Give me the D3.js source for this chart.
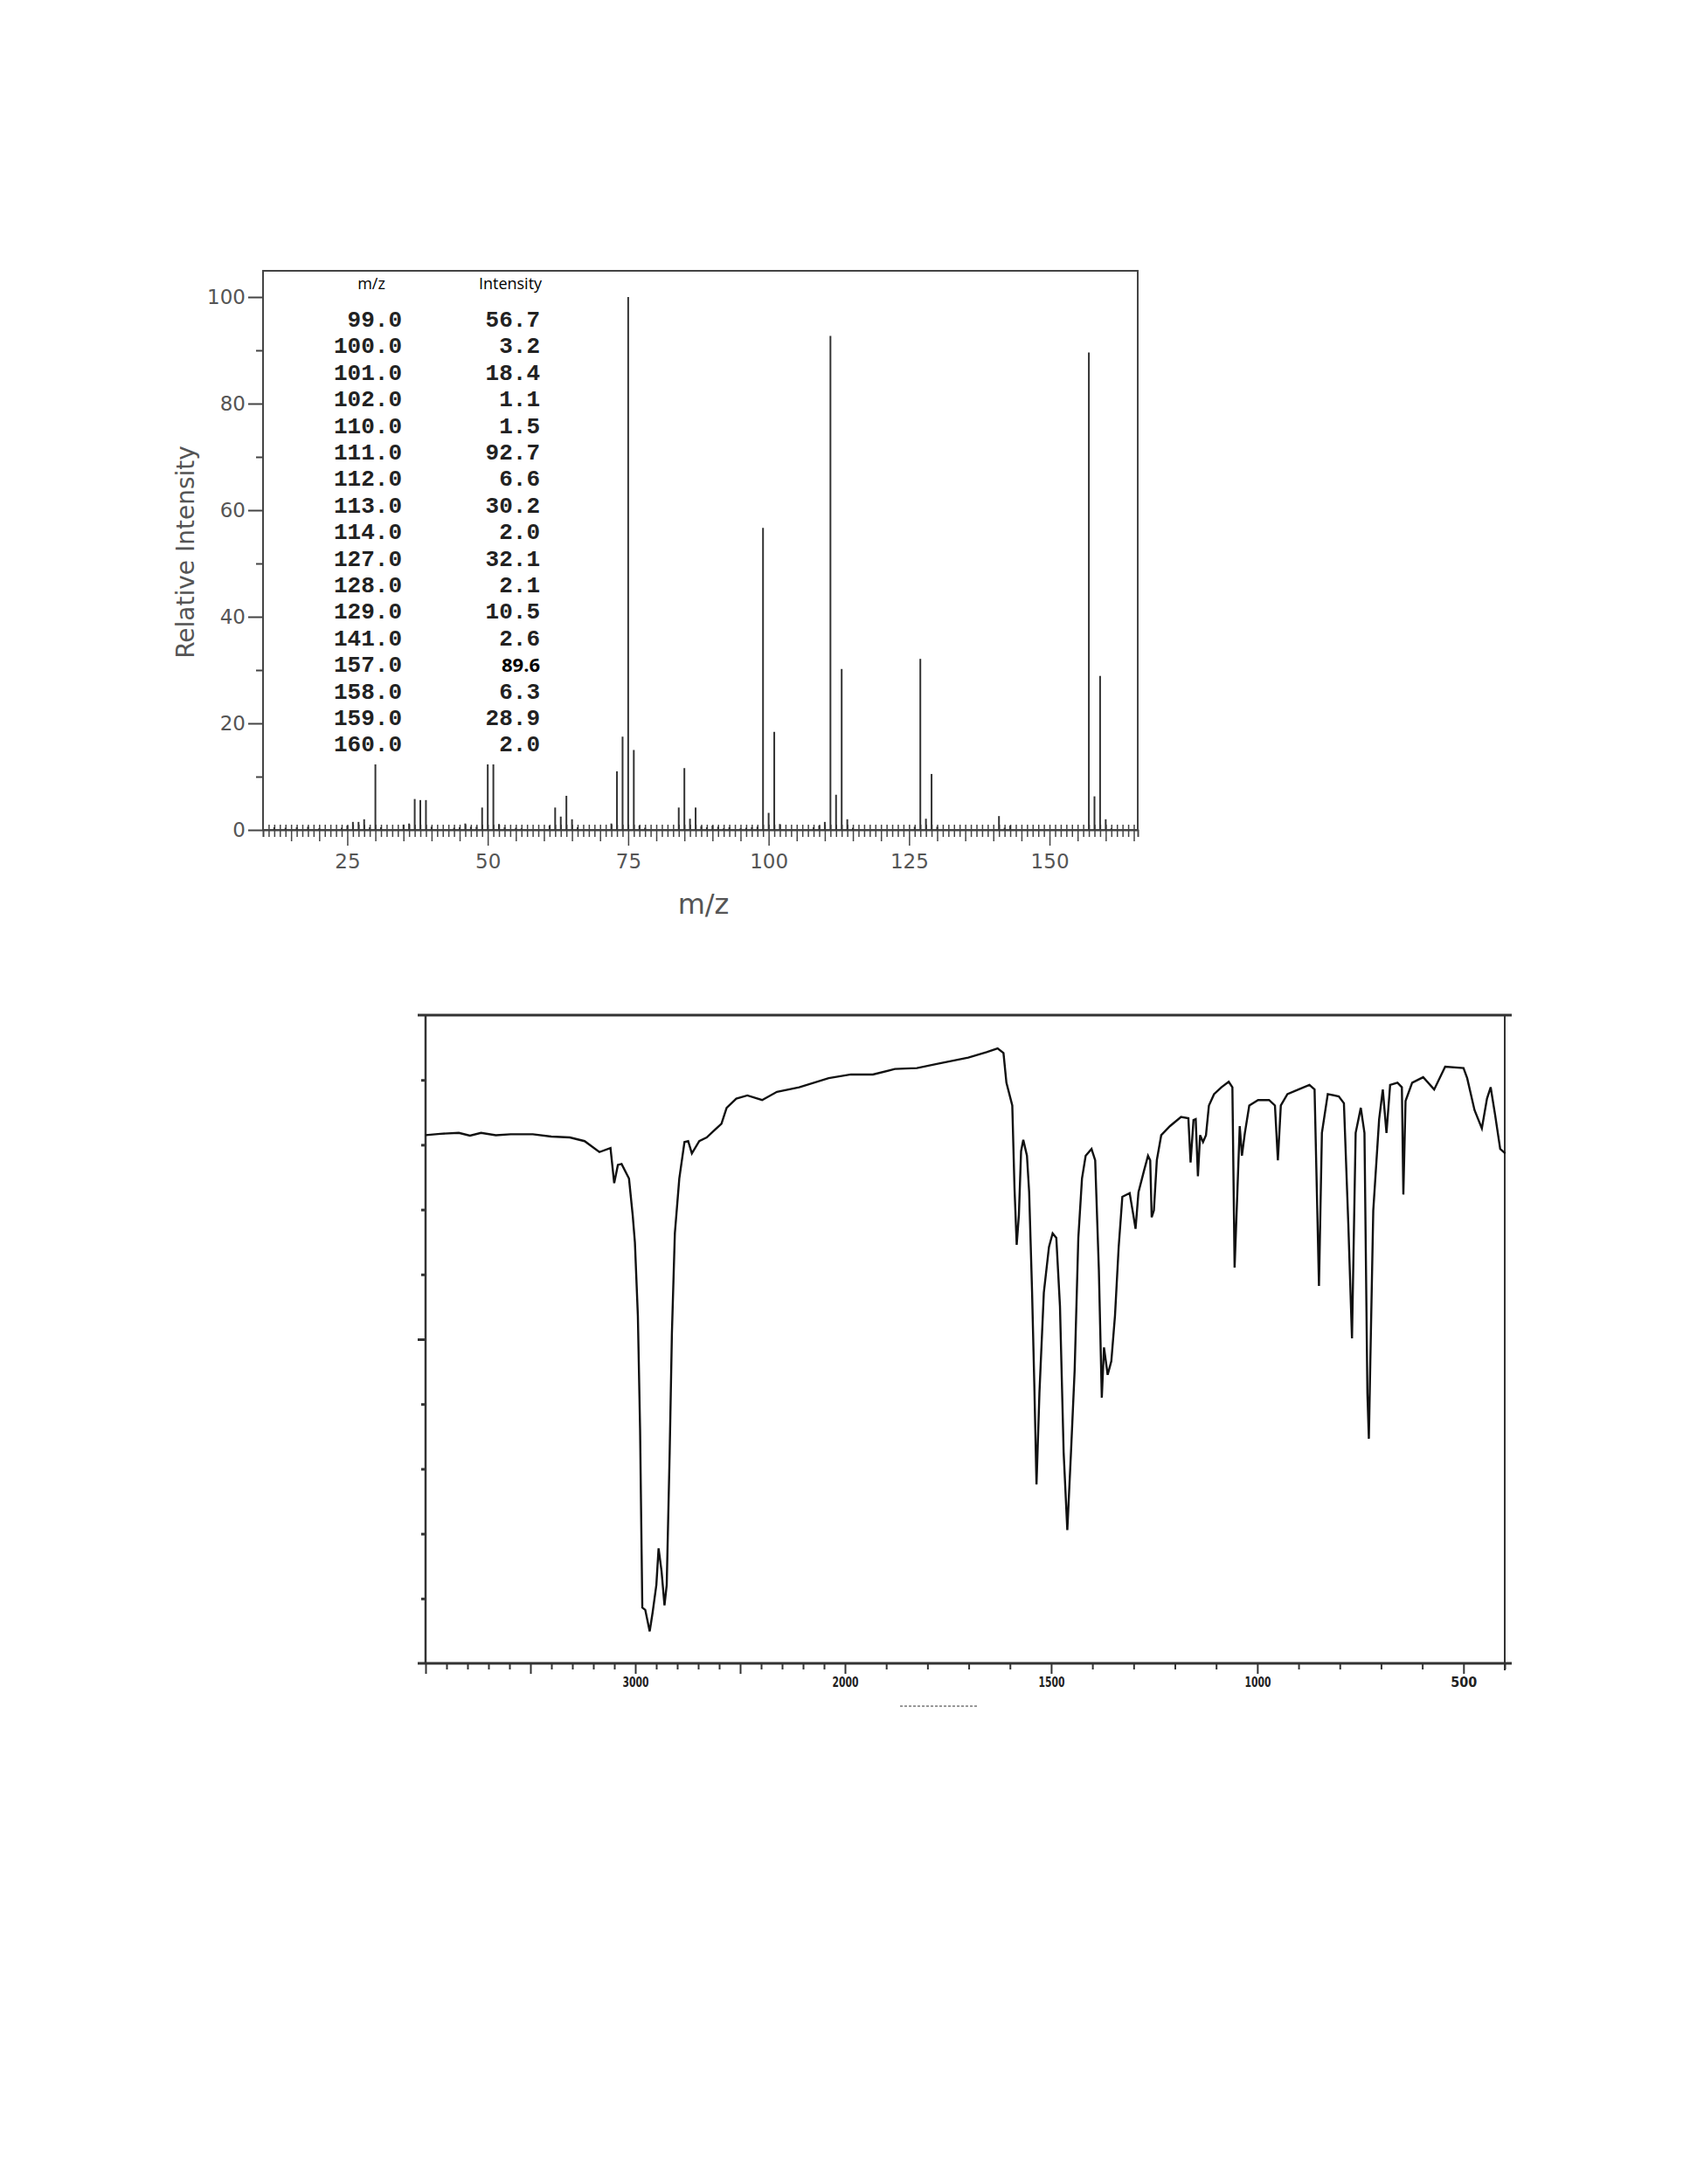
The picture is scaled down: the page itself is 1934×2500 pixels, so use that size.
<!DOCTYPE html>
<html><head><meta charset="utf-8">
<script src="https://cdn.jsdelivr.net/npm/d3@7"></script>
<style>body{margin:0;background:#fff}</style></head>
<body><svg id="c" width="1934" height="2500"></svg>
<script>
// ---- Mass spectrum data ----
const msMz = [12,14,16,18,20,24,25,26,27,28,29,30,31,35,36,37,38,39,40,44,45,46,47,48,49,50,51,52,53,55,56,61,62,63,64,65,66,72,73,74,75,76,77,78,84,85,86,87,88,89,90,91,92,93,95,96,97,98,99,100,101,102,108,109,110,111,112,113,114,115,126,127,128,129,130,141,142,143,157,158,159,160,161];
const msInt = [0.5,0.4,0.5,0.6,0.3,0.4,0.8,1.5,1.5,2,0.5,12.3,0.5,1,1.2,5.8,5.6,5.6,0.6,0.4,0.5,1.2,0.6,0.6,4.2,12.3,12.3,1.1,0.5,0.4,0.3,0.8,4.2,2.5,6.4,2,0.5,1.2,11,17.5,100,15,0.8,0.4,4.2,11.6,2.1,4.2,0.7,0.5,0.8,0.6,0.3,0.5,0.3,0.4,0.5,0.6,56.7,3.2,18.4,1.1,0.5,0.8,1.5,92.7,6.6,30.2,2,0.4,0.6,32.1,2.1,10.5,0.6,2.6,0.4,0.8,89.6,6.3,28.9,2.0,0.3];
const tableMz = ["99.0","100.0","101.0","102.0","110.0","111.0","112.0","113.0","114.0","127.0","128.0","129.0","141.0","157.0","158.0","159.0","160.0"];
const tableInt = ["56.7","3.2","18.4","1.1","1.5","92.7","6.6","30.2","2.0","32.1","2.1","10.5","2.6","89.6","6.3","28.9","2.0"];
const msXTicks = [25,50,75,100,125,150];
const msYTicks = [0,20,40,60,80,100];

// ---- IR spectrum data (traced picture positions -> wavenumber, %T) ----
const irTrace = [[55,305],[75,302],[100,300],[115,306],[130,300],[150,305],[170,303],[200,303],[225,308],[250,310],[270,318],[290,342],[305,333],[310,410],[315,370],[320,368],[330,400],[335,480],[338,540],[342,700],[345,950],[348,1340],[352,1345],[358,1392],[362,1350],[367,1290],[370,1210],[374,1260],[378,1335],[381,1290],[385,1000],[388,740],[392,520],[398,400],[405,320],[410,318],[415,345],[425,318],[435,310],[445,295],[455,280],[462,245],[475,225],[490,218],[510,228],[530,210],[560,200],[600,180],[630,172],[660,172],[690,160],[720,158],[750,148],[790,135],[815,123],[830,115],[838,125],[842,190],[850,240],[853,420],[856,545],[859,480],[862,340],[865,315],[870,350],[873,430],[877,650],[880,850],[883,1070],[887,870],[893,650],[900,550],[905,520],[910,530],[915,680],[920,1000],[925,1170],[930,1000],[935,820],[940,530],[945,400],[950,350],[958,335],[963,360],[968,600],[972,880],[975,770],[980,830],[985,800],[990,700],[995,550],[1000,440],[1010,432],[1015,480],[1018,510],[1022,430],[1030,380],[1035,350],[1038,360],[1040,485],[1043,470],[1047,360],[1053,305],[1065,285],[1080,265],[1090,268],[1093,365],[1097,272],[1100,270],[1103,395],[1106,305],[1110,320],[1114,305],[1118,240],[1125,215],[1135,200],[1145,188],[1150,200],[1153,595],[1157,420],[1160,285],[1163,350],[1167,300],[1173,240],[1185,228],[1200,228],[1208,240],[1212,360],[1216,240],[1225,215],[1240,205],[1255,195],[1262,205],[1265,420],[1268,635],[1272,300],[1280,215],[1295,220],[1302,235],[1308,500],[1313,750],[1318,300],[1325,245],[1330,300],[1334,870],[1336,970],[1338,800],[1342,470],[1350,270],[1355,205],[1360,300],[1365,195],[1375,190],[1381,200],[1383,435],[1386,230],[1395,190],[1410,178],[1425,205],[1440,155],[1465,158],[1470,180],[1480,250],[1490,290],[1497,225],[1502,200],[1508,260],[1515,335],[1522,345]];
const irWave = irTrace.map(p => p[0] < 622 ? 4000 - (p[0]-55)*1000/283.5 : 2000 - (p[0]-622)*500/281);
const irT = irTrace.map(p => (1462 - p[1]) / 14.2);
const irXLabels = [3000,2000,1500,1000,500];

const svg = d3.select("#c");

// ================= MASS SPECTRUM =================
const mx = d3.scaleLinear().domain([10,165.7]).range([301,1302]);
const my = d3.scaleLinear().domain([0,100]).range([950,340]);
const gray = "#555";
svg.append("rect").attr("x",301).attr("y",310).attr("width",1001).attr("height",640)
  .attr("fill","none").attr("stroke","#444").attr("stroke-width",2);
const ya = svg.append("g").attr("transform","translate(301,0)")
  .call(d3.axisLeft(my).tickValues(d3.range(0,101,10)).tickSize(17).tickFormat(d => d%20===0? d:""));
ya.select(".domain").remove();
ya.selectAll(".tick line").attr("stroke","#444").attr("stroke-width",2).attr("x2",d=>d%20===0?-17:-8);
ya.selectAll("text").attr("font-family","DejaVu Sans").attr("font-size",23).attr("fill",gray);
const xa = svg.append("g").attr("transform","translate(0,950)")
  .call(d3.axisBottom(mx).tickValues(d3.range(11,166,1)).tickSize(8).tickFormat(d => msXTicks.includes(d)? d:""));
xa.select(".domain").attr("stroke","#444").attr("stroke-width",2);
xa.selectAll(".tick line").attr("stroke","#444").attr("stroke-width",1.5).attr("y1",-6).attr("y2",d=>d%25===0?18:(d%5===0?13:8));
xa.selectAll("text").attr("dy","1.45em").attr("font-family","DejaVu Sans").attr("font-size",23).attr("fill",gray);
svg.append("g").selectAll("line").data(msMz).join("line")
  .attr("x1",d=>mx(d)).attr("x2",d=>mx(d)).attr("y1",my(0)).attr("y2",(d,i)=>my(msInt[i]))
  .attr("stroke","#333").attr("stroke-width",2);
svg.append("text").attr("x",425).attr("y",331).attr("text-anchor","middle").attr("font-family","Open Sans").attr("font-size",18).text("m/z");
svg.append("text").attr("x",584).attr("y",331).attr("text-anchor","middle").attr("font-family","Open Sans").attr("font-size",18).text("Intensity");
tableMz.forEach((t,i)=>{
  const y = 374 + i*30.4;
  svg.append("text").attr("x",460).attr("y",y).attr("text-anchor","end").attr("font-family","Liberation Mono").attr("font-size",26).attr("fill","#222").attr("font-weight","bold").text(t);
  const b = tableInt[i]==="89.6";
  svg.append("text").attr("x",618).attr("y",y).attr("text-anchor","end").attr("font-family",b?"Open Sans":"Liberation Mono").attr("font-size",b?22:26).attr("fill",b?"#000":"#222").attr("font-weight","bold").text(tableInt[i]);
});
svg.append("text").attr("x",805).attr("y",1046).attr("text-anchor","middle").attr("font-family","DejaVu Sans").attr("font-size",32).attr("fill",gray).text("m/z");
svg.append("text").attr("transform","translate(222,632) rotate(-90)").attr("text-anchor","middle").attr("font-family","DejaVu Sans").attr("font-size",28).attr("fill",gray).text("Relative Intensity");

// ================= IR SPECTRUM =================
const ix = d3.scaleLinear().domain([4000,2000,400]).range([487,967,1722]);
const iy = d3.scaleLinear().domain([0,100]).range([1904,1162]);
svg.append("line").attr("x1",478).attr("x2",1730).attr("y1",1162).attr("y2",1162).attr("stroke","#333").attr("stroke-width",3);
svg.append("line").attr("x1",487).attr("x2",487).attr("y1",1162).attr("y2",1904).attr("stroke","#333").attr("stroke-width",2.5);
svg.append("line").attr("x1",1722).attr("x2",1722).attr("y1",1162).attr("y2",1912).attr("stroke","#333").attr("stroke-width",2);
const iya = svg.append("g").attr("transform","translate(487,0)")
  .call(d3.axisLeft(iy).tickValues(d3.range(10,100,10)).tickSize(6).tickFormat(""));
iya.select(".domain").remove();
iya.selectAll(".tick line").attr("stroke","#333").attr("stroke-width",3).attr("x2",d=>d===50?-9:-5);
const ixa = svg.append("g").attr("transform","translate(0,1904)")
  .call(d3.axisBottom(ix).tickValues(d3.range(400,4001,100)).tickSize(8).tickFormat(d=>irXLabels.includes(d)?d:""));
ixa.select(".domain").remove();
svg.append("line").attr("x1",478).attr("x2",1730).attr("y1",1904).attr("y2",1904).attr("stroke","#333").attr("stroke-width",3);
ixa.selectAll(".tick line").attr("stroke","#333").attr("stroke-width",2).attr("y2",d=>d%500===0?12:7);
ixa.selectAll(".tick text").attr("dy","1em").attr("font-family","DejaVu Sans Condensed, DejaVu Sans").attr("font-weight","bold").attr("font-size",16).attr("fill","#222").attr("textLength",30).attr("lengthAdjust","spacingAndGlyphs");
svg.append("line").attr("x1",1030).attr("x2",1120).attr("y1",1953).attr("y2",1953).attr("stroke","#999").attr("stroke-width",2).attr("stroke-dasharray","3,2");
svg.append("path").datum(irWave.map((w,i)=>[w,irT[i]]))
  .attr("d",d3.line().x(d=>ix(d[0])).y(d=>iy(d[1])))
  .attr("fill","none").attr("stroke","#111").attr("stroke-width",2.4);
</script></body></html>
